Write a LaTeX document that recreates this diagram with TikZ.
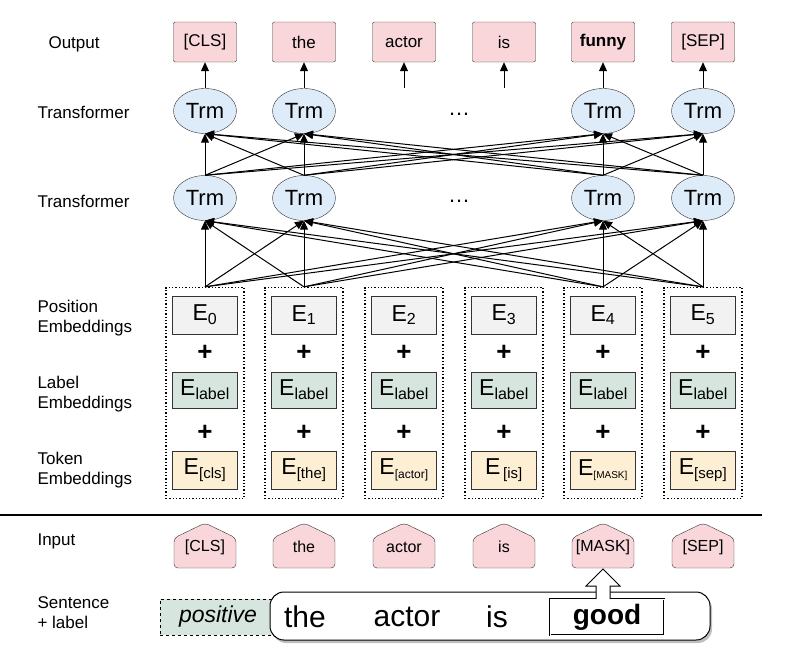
\documentclass[tikz,border=0pt]{standalone}
\usepackage{fontspec}
\setmainfont{Liberation Sans}
\usetikzlibrary{arrows.meta,shapes.geometric,shadows}
\definecolor{pinkf}{RGB}{249,214,217}
\definecolor{trmf}{RGB}{222,236,250}
\definecolor{posf}{RGB}{242,242,242}
\definecolor{labf}{RGB}{214,230,222}
\definecolor{tokf}{RGB}{253,239,211}
\begin{document}
\begin{tikzpicture}[x=1pt,y=-1pt,
 outbox/.style={draw=black!80,fill=pinkf,rounded corners=2pt,minimum width=63pt,minimum height=40pt,font=\fontsize{17}{17}\selectfont},
 trm/.style={draw=black!80,fill=trmf,ellipse,minimum width=63pt,minimum height=45pt,inner sep=0pt,font=\fontsize{22}{22}\selectfont},
 posbox/.style={draw=black!80,fill=posf,minimum width=65pt,minimum height=38pt,font=\fontsize{23}{23}\selectfont},
 labbox/.style={draw=black!80,fill=labf,minimum width=65pt,minimum height=36pt,font=\fontsize{23}{23}\selectfont},
 tokbox/.style={draw=black!80,fill=tokf,minimum width=65pt,minimum height=38pt,font=\fontsize{23}{23}\selectfont},
 colbox/.style={draw,dotted,line width=1.3pt,minimum width=78pt,minimum height=211pt},
 plus/.style={font=\fontsize{26}{26}\selectfont\bfseries},
 side/.style={anchor=west,align=left,font=\fontsize{17}{20}\selectfont},
 arr/.style={-{Triangle[length=9pt,width=8pt]},line width=1pt}]
\useasboundingbox (0,0) rectangle (804,654);
\def\xs{{205,304,404,504,603,703}}
\node[side] (l1) at (45,44) {Output};
\node[side] (l2) at (34,112) {Transformer};
\node[side] (l3) at (34,201) {Transformer};
\node[side] (l4) at (34,318) {Position\\Embeddings};
\node[side] (l5) at (34,394) {Label\\Embeddings};
\node[side] (l6) at (34,470) {Token\\Embeddings};
\node[side] (l7) at (34,541) {Input};
\node[side] (l8) at (34,613) {Sentence\\+ label};
\foreach \i/\t in {0/{[CLS]},1/the,2/actor,3/is,4/{\textbf{funny}},5/{[SEP]}}{
  \pgfmathsetmacro\x{\xs[\i]}
  \node[outbox] (o\i) at (\x,42) {\t};}
\foreach \i in {0,1,4,5}{
  \pgfmathsetmacro\x{\xs[\i]}
  \node[trm] (u\i) at (\x,111) {Trm};
  \node[trm] (d\i) at (\x,198) {Trm};}
\node[font=\fontsize{22}{22}\selectfont] (dots1) at (459,114) {\dots};
\node[font=\fontsize{22}{22}\selectfont] (dots2) at (459,201) {\dots};
\foreach \i/\n/\tk in {0/0/{[cls]},1/1/{[the]},2/2/{[actor]},3/3/{\,[is]},4/4/{[MASK]},5/5/{[sep]}}{
  \pgfmathsetmacro\x{\xs[\i]}
  \node[colbox] (c\i) at (\x,393) {};
  \node[posbox] (p\i) at (\x,315) {E\textsubscript{\fontsize{16}{16}\selectfont\n}};
  \node[plus] (pa\i) at (\x,353) {+};
  \node[labbox] (e\i) at (\x,390) {E\textsubscript{\fontsize{16}{16}\selectfont label}};
  \node[plus] (pb\i) at (\x,433) {+};
  \node[tokbox] (t\i) at (\x,470) {E\textsubscript{\ifnum\i=4 \fontsize{10}{10}\else\ifnum\i=2 \fontsize{12}{12}\else\fontsize{15}{15}\fi\fi\selectfont\tk}};
}
\foreach \i in {0,1,4,5}{\draw[arr] (u\i) -- (o\i);}
\coordinate (a2) at (404,88); \coordinate (a3) at (504,88);
\draw[arr] (a2) -- (o2); \draw[arr] (a3) -- (o3);
\foreach \i in {0,1,4,5}{\foreach \j in {0,1,4,5}{
  \draw[arr] (c\i.north) -- (d\j.south);
  \draw[arr] (d\i.north) -- (u\j.south);}}
\coordinate (s1) at (0,515); \coordinate (s2) at (762,515);
\draw[line width=2.2pt] (s1) -- (s2);
\foreach \i/\t in {0/{[CLS]},1/the,2/actor,3/is,4/{[MASK]},5/{[SEP]}}{
  \pgfmathsetmacro\x{\xs[\i]}
  \draw[draw=black!80,fill=pinkf,rounded corners=4pt] (\x-31,568) -- (\x+31,568) -- (\x+31,538) -- (\x,523) -- (\x-31,538) -- cycle;
  \node[font=\fontsize{16}{16}\selectfont,inner sep=0pt] (i\i) at (\x,547) {\t};
}
\node[draw,dashed,fill=labf,minimum width=116pt,minimum height=36pt,font=\fontsize{23}{23}\selectfont\itshape] (pl) at (218,617) {positive};
\node[draw,line width=1pt,fill=white,rounded corners=14pt,minimum width=440pt,minimum height=48pt,drop shadow={shadow xshift=2pt,shadow yshift=-3pt}] (sent) at (490,616) {};
\node[font=\fontsize{30}{30}\selectfont] (w1) at (305,617) {the};
\node[font=\fontsize{30}{30}\selectfont] (w2) at (407,617) {actor};
\node[font=\fontsize{30}{30}\selectfont] (w3) at (497,617) {is};
\node[draw,double,minimum width=114pt,minimum height=36pt,font=\fontsize{28}{28}\selectfont\bfseries] (good) at (607,617) {good};
\draw[line width=1pt,fill=white] (596,599) -- (596,586) -- (586,586) -- (603,569) -- (620,586) -- (610,586) -- (610,599);
\end{tikzpicture}
\end{document}
